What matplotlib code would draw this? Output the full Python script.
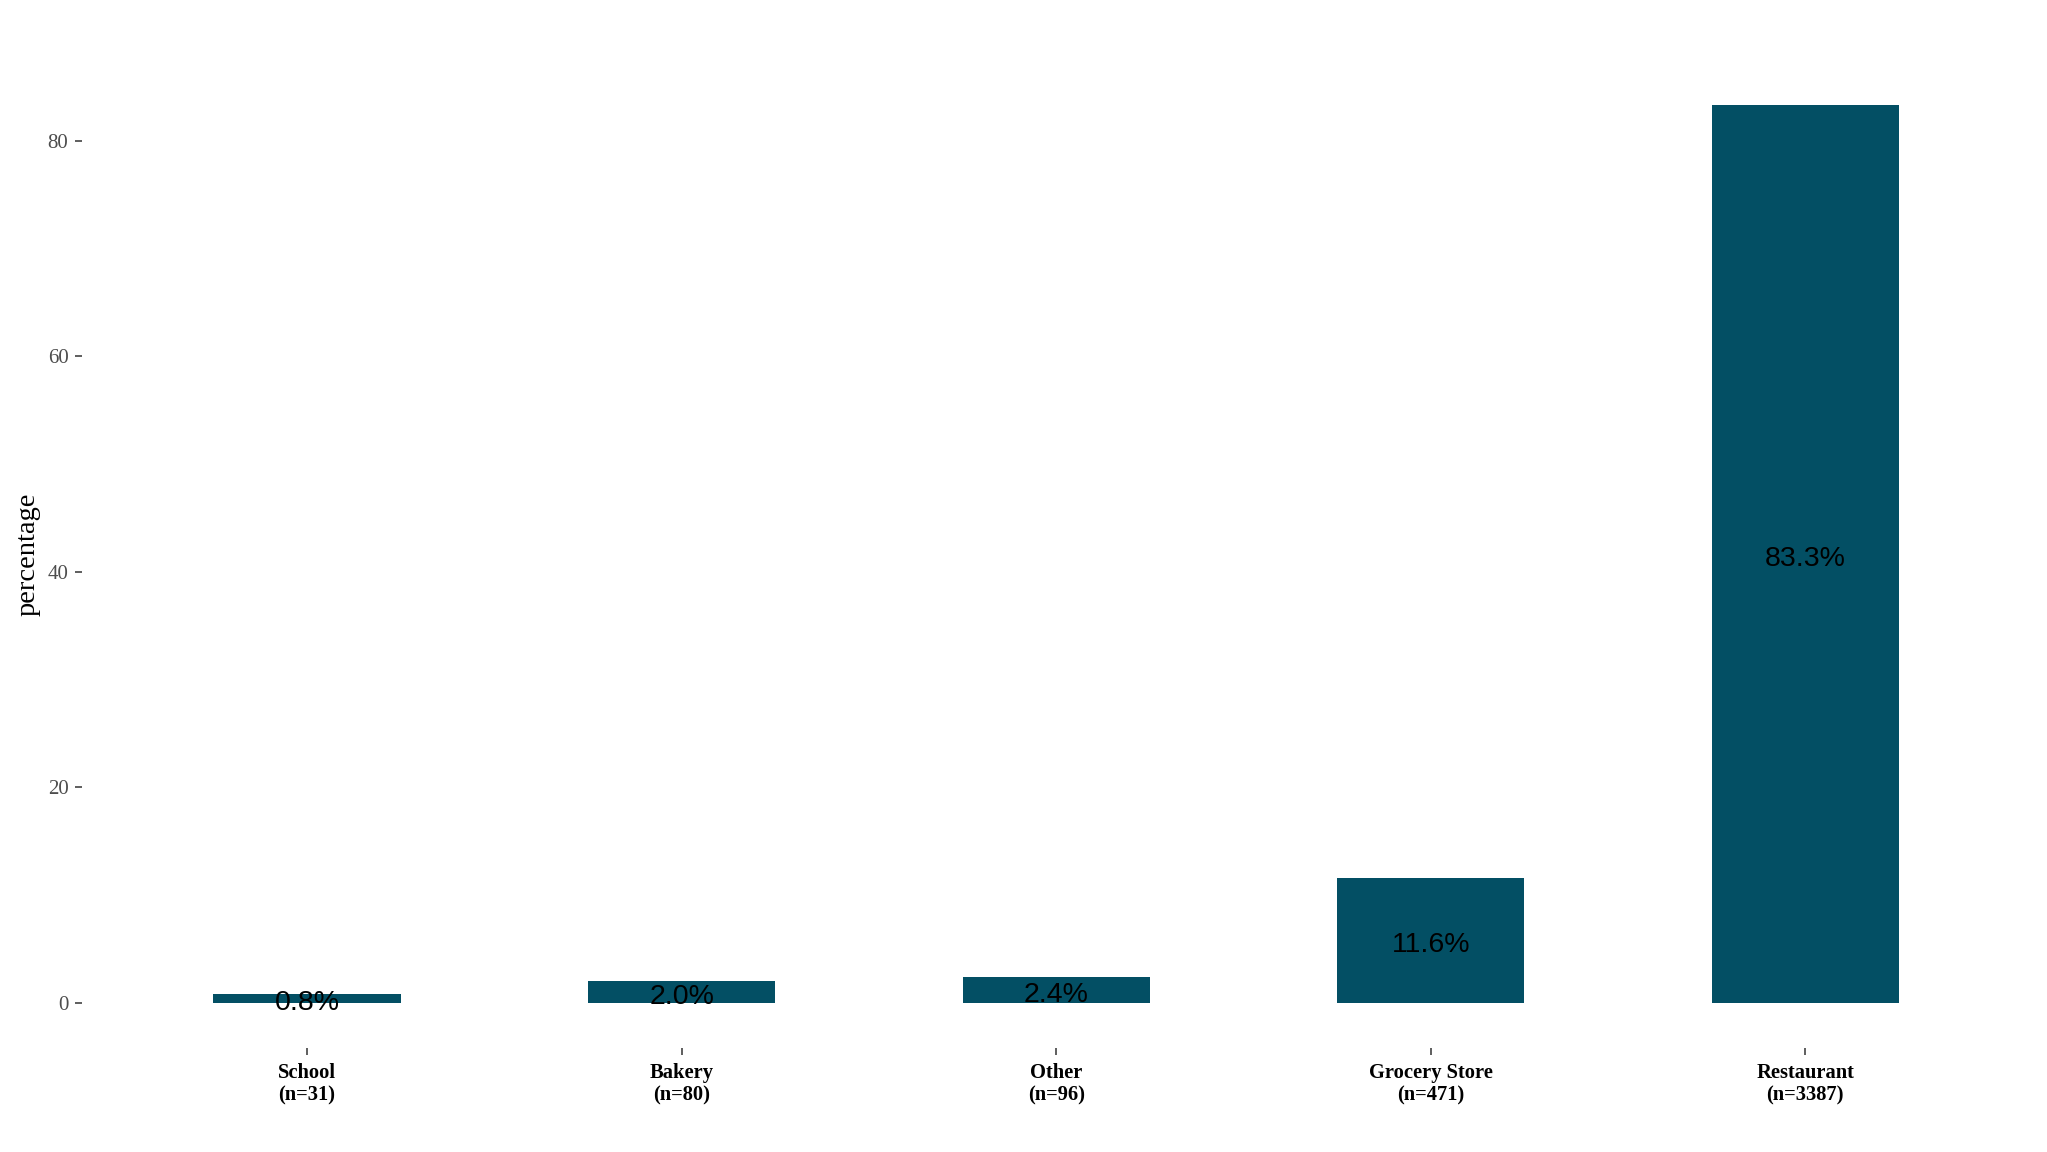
import matplotlib
matplotlib.use("Agg")
import matplotlib.pyplot as plt

categories = ["School", "Bakery", "Other", "Grocery Store", "Restaurant"]
counts = [31, 80, 96, 471, 3387]
percentages = [0.8, 2.0, 2.4, 11.6, 83.3]
label_texts = ["0.8%", "2.0%", "2.4%", "11.6%", "83.3%"]
y_ticks = [0, 20, 40, 60, 80]

bar_color = "#034F64"

fig = plt.figure(figsize=(20.47, 11.52), dpi=100)
ax = fig.add_axes([0.0402, 0.0907, 0.9515, 0.8567])

x = list(range(1, len(categories) + 1))
ax.bar(x, percentages, width=0.5, color=bar_color, linewidth=0)
for xi, p, t in zip(x, percentages, label_texts):
    ax.annotate(t, xy=(xi, p / 2), xytext=(0, -3.5), textcoords="offset points",
                ha="center", va="center", fontsize=20.5,
                family="Liberation Sans", color="black")

top = max(percentages)
ax.set_xlim(0.4, len(categories) + 0.6)
ax.set_ylim(-0.05 * top, top * 1.05)

ax.set_xticks(x)
ax.set_xticklabels([f"{c}\n(n={n})" for c, n in zip(categories, counts)],
                   family="Liberation Serif", fontweight="bold", fontsize=14.8,
                   color="black", linespacing=1.12)
ax.set_yticks(y_ticks)
ax.set_yticklabels([str(v) for v in y_ticks], family="Liberation Serif",
                   fontsize=15, color="#4D4D4D")
ax.tick_params(axis="both", length=5, width=1.1, color="#333333")
ax.tick_params(axis="y", pad=5)
ax.tick_params(axis="x", pad=6.5)

for s in ax.spines.values():
    s.set_visible(False)

ax.set_ylabel("percentage", family="Liberation Serif", fontsize=20.5, color="black")
ax.yaxis.set_label_coords(-0.0215, 0.5)

fig.savefig("out.png", dpi=100, facecolor="white")
